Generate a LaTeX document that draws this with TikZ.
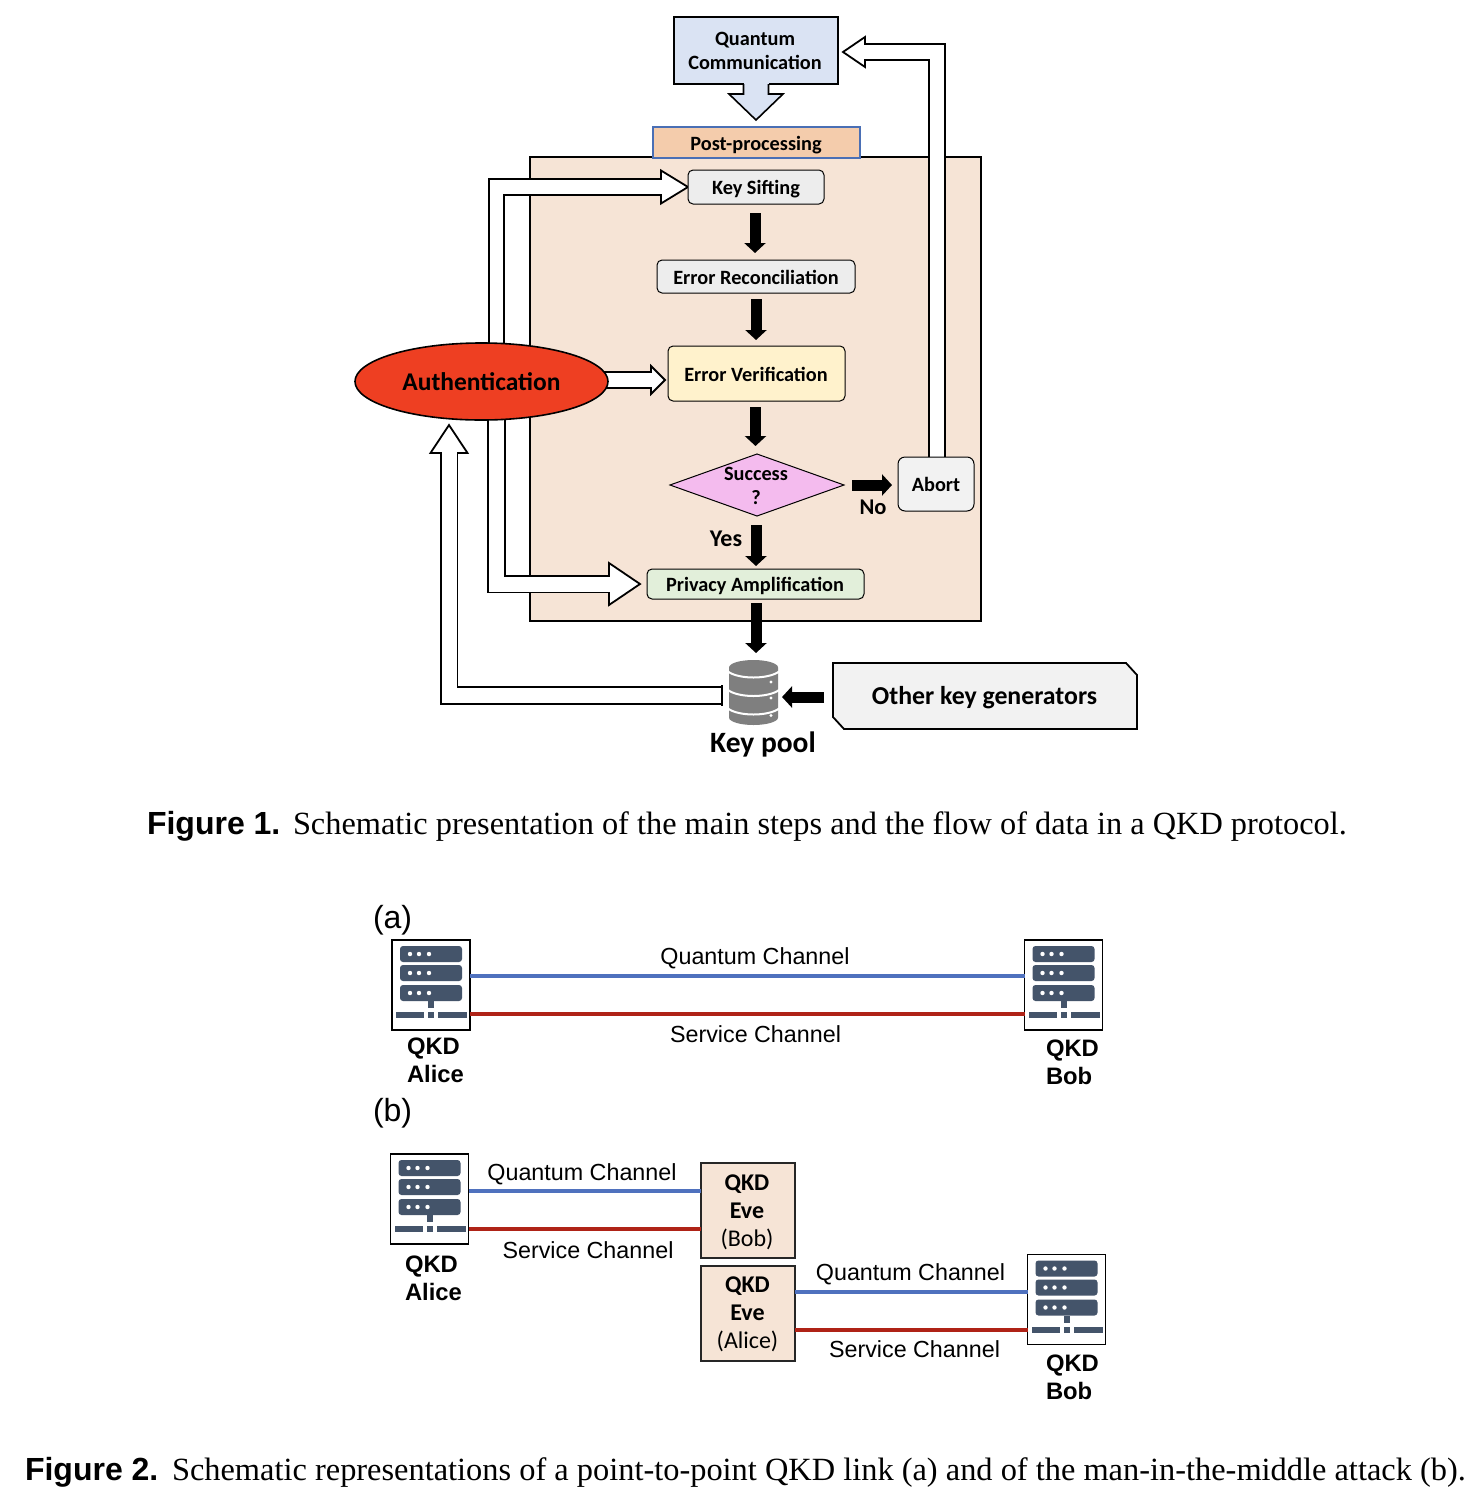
\documentclass[tikz,border=0pt]{standalone}
\usepackage{fontspec}
\setmainfont{Carlito}
\newfontfamily\arialf{Liberation Sans}
\newfontfamily\timesf{Liberation Serif}
\usetikzlibrary{shapes.geometric,arrows.meta,calc}
\pgfdeclarelayer{back}\pgfdeclarelayer{conn}\pgfsetlayers{back,conn,main}
\definecolor{qfill}{HTML}{DAE3F3}
\definecolor{ppfill}{HTML}{F6E4D6}
\definecolor{pphead}{HTML}{F4CCAC}
\definecolor{ppedge}{HTML}{4A6FB5}
\definecolor{greyfill}{HTML}{EDEDED}
\definecolor{abfill}{HTML}{F2F2F2}
\definecolor{evfill}{HTML}{FFF2CC}
\definecolor{diafill}{HTML}{F4BBEE}
\definecolor{pafill}{HTML}{E2EFDA}
\definecolor{authfill}{HTML}{EE3F22}
\definecolor{srvcol}{HTML}{44546A}
\definecolor{kpcol}{HTML}{7F7F7F}
\definecolor{chblue}{HTML}{4F71BE}
\definecolor{chred}{HTML}{AF2317}
\tikzset{
  base/.style={inner sep=0pt,outer sep=0pt,align=center},
  lbl/.style={base,font=\bfseries\fontsize{20.3}{24}\selectfont},
  squarebox/.style={base,draw=black,line width=1.8pt},
  stepbox/.style={base,draw=black,line width=1pt,rounded corners=5pt},
  hollow/.style={draw=black,line width=1.8pt,double=white,double distance=13.5pt},
  hollowwide/.style={draw=black,line width=1.8pt,double=white,double distance=15pt},
  headtip/.style={draw=black,fill=white,line width=1.8pt,miter limit=10},
  blk/.style={black,line width=11pt,-{Triangle[length=10pt,width=21pt]}},
  srvbox/.style={base,draw=black,line width=1.8pt,fill=white,minimum width=78pt,minimum height=90pt},
  evebox/.style={base,draw=black!85,line width=1.8pt,fill=ppfill,minimum width=94pt,minimum height=95pt},
  evelbl/.style={base,font=\fontsize{24}{28}\selectfont},
  chlbl/.style={base,font=\arialf\fontsize{23.3}{28}\selectfont},
  qkdlbl/.style={base,align=left,anchor=north west,font=\arialf\bfseries\fontsize{23.8}{28}\selectfont},
  partlbl/.style={base,anchor=west,font=\arialf\fontsize{32}{36}\selectfont},
  quant/.style={chblue,line width=4.6pt},
  serv/.style={chred,line width=4.6pt},
  server/.pic={
    \foreach \yy in {-39,-20,0}{
      \fill[srvcol,rounded corners=3pt] (-31,\yy-0) rectangle (31,\yy+16);
      \foreach \xx in {-21,-12,-2}{\fill[white] (\xx,\yy+8) circle (2.2);}
    }
    \fill[srvcol] (-3,16) rectangle (3,23);
    \fill[srvcol] (-35,27) rectangle (-7,33);
    \fill[srvcol] (-3,27) rectangle (3,33);
    \fill[srvcol] (7,27) rectangle (36,33);
  }
}
% tip, rotation, length, half width, half width of the shaft's white inside
\newcommand\arrowhead[5]{%
  \draw[headtip,shift={#1},rotate=#2] (0,0) -- (-#3,-#4) -- (-#3,#4) -- cycle;
  \fill[white,shift={#1},rotate=#2] (-#3-1.5,-#5) rectangle (-#3+1.5,#5);}
\begin{document}
\begin{tikzpicture}[x=1pt,y=-1pt]
\path[use as bounding box] (0,0) rectangle (1478,1502);
% ---- Figure 1
\begin{pgfonlayer}{back}
\fill[white] (0,0) rectangle (1478,1502);
\node[base,draw=black,line width=2pt,fill=ppfill,minimum width=451pt,minimum height=464pt] (area) at (755.5,389) {};
\end{pgfonlayer}
\node[squarebox,fill=qfill,minimum width=164pt,minimum height=67pt] (q) at (756,50.5) {};
\node[lbl] (qtext) at (755,50.5) {Quantum\\Communication};
\fill[qfill,shift={(q.south)}] (-12.5,-2) rectangle (12.5,10);
\draw[black,line width=1.6pt,fill=qfill,shift={(q.south)}] (-12.5,0) -- (-12.5,10) -- (-27,10) -- (0,36) -- (27,10) -- (12.5,10) -- (12.5,0);
\node[base,draw=ppedge,line width=1.6pt,fill=pphead,minimum width=207pt,minimum height=31pt] (pp) at (756.5,142.5) {};
\node[lbl] (pptext) at (756,145) {Post-processing};
\node[stepbox,fill=greyfill,minimum width=136pt,minimum height=34pt] (sift) at (756,187) {};
\node[lbl] (sifttext) at (756,189.5) {Key Sifting};
\node[stepbox,fill=greyfill,minimum width=198pt,minimum height=33pt] (rec) at (756,276.5) {};
\node[lbl] (rectext) at (756,277.5) {Error Reconciliation};
\node[stepbox,fill=evfill,minimum width=177pt,minimum height=55pt] (ev) at (756.5,373.5) {};
\node[lbl] (evtext) at (756,374.5) {Error Verification};
\node[base,diamond,draw=black,line width=1pt,fill=diafill,minimum width=174pt,minimum height=62pt] (dia) at (757,485) {};
\node[lbl] (diatext) at (756,485.5) {Success\\?};
\node[stepbox,fill=abfill,minimum width=76pt,minimum height=54pt,rounded corners=7pt] (abort) at (936,484) {};
\node[lbl] (aborttext) at (936,484) {Abort};
\node[stepbox,fill=pafill,minimum width=217pt,minimum height=30pt] (pa) at (755.5,584) {};
\node[lbl] (patext) at (755,585.5) {Privacy Amplification};
\node[base,ellipse,draw=black,line width=1.6pt,fill=authfill,minimum width=253pt,minimum height=77pt] (auth) at (481.5,381.5) {};
\node[base,font=\bfseries\fontsize{25.5}{30}\selectfont] (authtext) at (481.5,381.5) {Authentication};
\node[base,font=\bfseries\fontsize{24}{28}\selectfont] (yes) at (726,539) {Yes};
\node[base,font=\bfseries\fontsize{22.5}{26}\selectfont] (no) at (873,507.5) {No};
% key pool icon
\node[base,minimum width=49pt,minimum height=65pt] (kp) at (753.5,692.5) {};
\begin{scope}[shift={(kp.center)}]
  \fill[kpcol] (-24.5,-25) arc[start angle=180,end angle=360,x radius=24.5,y radius=7.5] -- (24.5,25) arc[start angle=0,end angle=180,x radius=24.5,y radius=7.5] -- cycle;
  \foreach \yy in {-21,-2.5,16}{
    \draw[white,line width=2pt] (-25.5,\yy) .. controls (-15,\yy+8) and (15,\yy+8) .. (25.5,\yy);
  }
  \foreach \yy in {-9.5,6.5,24}{\fill[white] (17.5,\yy-1) circle (1.7);}
\end{scope}
\node[base,font=\bfseries\fontsize{29.5}{34}\selectfont] (kplbl) at (763,744) {Key pool};
% other key generators
\node[base,minimum width=304pt,minimum height=66pt] (other) at (985,696) {};
\draw[black,line width=1.8pt,fill=abfill] (other.north west) -- ([xshift=-11pt]other.north east) -- ([yshift=-12pt]other.north east) -- (other.south east) -- ([xshift=11pt]other.south west) -- ([yshift=12pt]other.south west) -- cycle;
\node[base,font=\bfseries\fontsize{25.8}{31}\selectfont] (othertext) at (984.5,698) {Other key generators};
% hollow connectors
\coordinate (rail) at (496.5,381);
\begin{pgfonlayer}{conn}
\draw[hollow] (rail) |- ([xshift=-24pt]sift.west);
\arrowhead{(sift.west)}{0}{27}{16.5}{6.75}
\draw[hollowwide] (rail) |- ([xshift=-36pt]pa.west);
\arrowhead{([xshift=-7pt]pa.west)}{0}{31}{21}{7.5}
\draw[hollow] (auth.center) ++(0,-1.5) -- ([xshift=-14pt,yshift=1.5pt]ev.west |- auth.center);
\arrowhead{([xshift=-3pt,yshift=1.5pt]ev.west |- auth.center)}{0}{14}{14}{6.75}
\draw[hollow] ([xshift=1pt]abort.north) |- ([xshift=24pt,yshift=-1.5pt]q.east);
\arrowhead{([xshift=5pt,yshift=-1.5pt]q.east)}{180}{22}{15}{6.75}
\draw[hollowwide] ([xshift=-7pt,yshift=-3pt]kp.west) -| ([xshift=-32.5pt,yshift=-31pt]auth.south);
\draw[black,line width=1.8pt] ([xshift=-7pt,yshift=7.4pt]kp.west) -- ([xshift=-7pt,yshift=-13.4pt]kp.west);
\arrowhead{([xshift=-32.5pt,yshift=-5pt]auth.south)}{90}{28}{18.5}{7.5}
\end{pgfonlayer}
% black connectors
\draw[blk,shorten <=9pt,shorten >=7pt] ([xshift=-1pt]sift.south) -- ([xshift=-1pt]rec.north);
\draw[blk,shorten <=6pt,shorten >=6pt] (rec.south) -- (rec.south |- ev.north);
\draw[blk,shorten <=6pt,shorten >=8pt] ([xshift=-1pt]ev.south) -- ([xshift=-1pt]ev.south |- dia.north);
\draw[blk,shorten <=8pt,shorten >=6pt] (dia.east) -- (abort.west |- dia.east);
\draw[blk,shorten <=9pt,shorten >=3pt] ([xshift=-1pt]dia.south) -- ([xshift=-1pt]dia.south |- pa.north);
\draw[blk,shorten <=4pt,shorten >=7pt] ([xshift=.5pt]pa.south) -- ([xshift=.5pt]pa.south |- kp.north);
\draw[blk,shorten <=9pt,shorten >=4pt] ([yshift=-1pt]other.west) -- ([yshift=-1pt]kp.east |- other.west);
% caption 1
\node[base,anchor=base west,font=\arialf\bfseries\fontsize{32}{38}\selectfont] (cap1a) at (147,834) {Figure 1.};
\node[base,anchor=base west,font=\timesf\fontsize{32.35}{38}\selectfont] (cap1b) at (293,834) {Schematic presentation of the main steps and the flow of data in a QKD protocol.};
% ---- Figure 2 (a)
\node[partlbl] (pa1) at (373,920) {(a)};
\node[srvbox] (a1) at (431,985) {};
\node[srvbox] (b1) at (1063.5,985) {};
\pic at (a1.center) {server};
\pic at (b1.center) {server};
\draw[quant] ([yshift=9pt]a1.east) -- ([yshift=9pt]b1.west);
\draw[serv] ([yshift=-29pt]a1.east) -- ([yshift=-29pt]b1.west);
\node[chlbl] (qc1) at (755,958.5) {Quantum Channel};
\node[chlbl] (sc1) at (755.5,1034.5) {Service Channel};
\node[qkdlbl] (al1) at (407,1037.5) {QKD\\Alice};
\node[qkdlbl] (bo1) at (1046,1039.5) {QKD\\Bob};
% ---- Figure 2 (b)
\node[partlbl] (pb1) at (373,1113) {(b)};
\node[srvbox] (a2) at (429.5,1199) {};
\node[srvbox] (b2) at (1066.5,1299.5) {};
\pic at (a2.center) {server};
\pic at (b2.center) {server};
\node[evebox] (eb) at (748,1210.5) {};
\node[evebox] (ea) at (748,1313.5) {};
\node[evelbl] (ebtext) at (747,1212) {\textbf{QKD}\\\textbf{Eve}\\(Bob)};
\node[evelbl] (eatext) at (747.5,1314) {\textbf{QKD}\\\textbf{Eve}\\(Alice)};
\draw[quant] ([yshift=8pt]a2.east) -- ([yshift=8pt]a2.east -| eb.west);
\draw[serv] ([yshift=-30pt]a2.east) -- ([yshift=-30pt]a2.east -| eb.west);
\draw[quant] ([yshift=7.5pt]b2.west -| ea.east) -- ([yshift=7.5pt]b2.west);
\draw[serv] ([yshift=-30.5pt]b2.west -| ea.east) -- ([yshift=-30.5pt]b2.west);
\node[chlbl] (qc2) at (582,1174) {Quantum Channel};
\node[chlbl] (sc2) at (588,1250.5) {Service Channel};
\node[chlbl] (qc3) at (910.5,1274) {Quantum Channel};
\node[chlbl] (sc3) at (914.5,1349.5) {Service Channel};
\node[qkdlbl] (al2) at (405,1255.5) {QKD\\Alice};
\node[qkdlbl] (bo2) at (1046,1354.5) {QKD\\Bob};
% caption 2
\node[base,anchor=base west,font=\arialf\bfseries\fontsize{32}{38}\selectfont] (cap2a) at (25,1480) {Figure 2.};
\node[base,anchor=base west,font=\timesf\fontsize{32.4}{38}\selectfont] (cap2b) at (172,1480) {Schematic representations of a point-to-point QKD link (a) and of the man-in-the-middle attack (b).};
\end{tikzpicture}
\end{document}
